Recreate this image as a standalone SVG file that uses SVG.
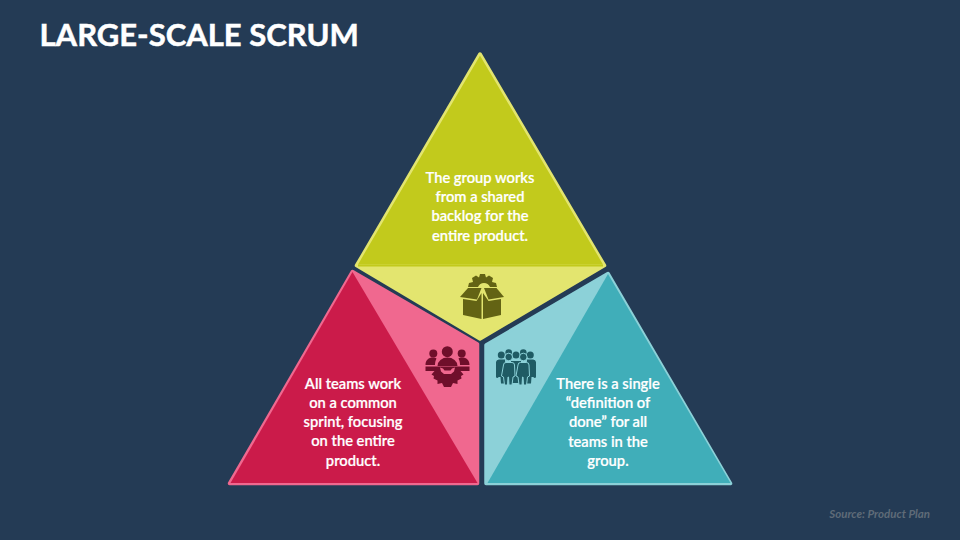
<svg xmlns="http://www.w3.org/2000/svg" width="960" height="540" viewBox="0 0 960 540">
<style>
text{font-family:Lato,"Liberation Sans",sans-serif}
.t{font-size:14.700px;font-weight:600;fill:#fff;text-anchor:middle;stroke:#fff;stroke-width:.2px}
.j{stroke-linejoin:round}
</style>
<rect width="960" height="540" fill="#243b55"/>
<text x="39.500" y="45.500" font-size="31" font-weight="700" fill="#fff" stroke="#fff" stroke-width=".5">LARGE-SCALE SCRUM</text>
<text x="930" y="518" font-size="11.500" font-weight="700" font-style="italic" fill="#5f6b78" text-anchor="end">Source: Product Plan</text>
<g id="node-top">
<path class="j" d="M480 54L604.500 265.500L480 339L356.500 265.500Z" fill="#e3e56f" stroke="#e3e56f" stroke-width="3.500"/>
<path class="j" d="M480 54L604.500 265.500H356.500Z" fill="#c2ca1c" stroke="#e3e56f" stroke-width="1.500"/>
<path d="M358 265.800H603" stroke="#c2ca1c" stroke-width="1.500"/>
<g fill="#636314">
<path d="M468 287l1-4 4-1-1-4 4-2.500 3 2 1-3.500h5l1 3.500 3-2 4 2.500-1 4 4 1 1 4h-7a7 7 0 0 0-6-4 7 7 0 0 0-6 4z"/>
<path d="M460 297L468 288H481.500L477 299.500Z"/>
<path d="M484 288H496.500L504 297 488.500 299.500Z"/>
<path d="M463 299L476.500 301 481.500 293V319L463 315Z"/>
<path d="M483 293L488.500 301 501 299V315L483 319Z"/>
</g>
<text class="t"><tspan x="480" y="183">The group works</tspan><tspan x="480" y="202">from a shared</tspan><tspan x="480" y="221">backlog for the</tspan><tspan x="480" y="241">entire product.</tspan></text>
</g>
<g id="node-left">
<path class="j" d="M352.500 271.500L477.500 344V483.500H229.500Z" fill="#f0688f" stroke="#f0688f" stroke-width="3.500"/>
<path d="M352.500 272L477.500 483H230.500Z" fill="#cb1b4a"/>
<g fill="#6f0f2b">
<circle cx="447.300" cy="351.700" r="5.500"/><circle cx="433.300" cy="353.500" r="4"/><circle cx="461.700" cy="353.500" r="4"/>
<path d="M437.500 366a10 8.500 0 0 1 20 0z"/>
<path d="M425.500 365c0-5 3-7.500 7.500-7.500 1.500 0 2.500.3 3.500 1-1 1.800-1.500 4-1.500 6.500zM469.500 365c0-5-3-7.500-7.500-7.500-1.500 0-2.500.3-3.500 1 1 1.800 1.500 4 1.500 6.500z"/>
<path d="M425.500 366.500H469.500V371H460.500L463.500 374.500 461 376 461.500 378.500 457.500 380.500 457.500 384 453 383 451 387H444L442 383 437.500 384 437.500 380.500 433.500 378.500 434 376 431.500 374.500 434.500 371H425.500Z"/>
</g>
<path d="M440 367.500l3 1 1.500 2h6l1.500-2 3-1-1 4-3 2.500h-7l-3-2.500z" fill="#f0688f"/>
<text class="t"><tspan x="353" y="389">All teams work</tspan><tspan x="353" y="408">on a common</tspan><tspan x="353" y="427">sprint, focusing</tspan><tspan x="353" y="446">on the entire</tspan><tspan x="353" y="466">product.</tspan></text>
</g>
<g id="node-right">
<path class="j" d="M608 273.500L730.500 483.500H486V345Z" fill="#8cd1d8" stroke="#8cd1d8" stroke-width="3.500"/>
<path d="M608 274L730.500 483H487.500Z" fill="#40aeb9"/>
<g fill="#1f5b64">
<circle cx="501.300" cy="355" r="3.500"/><circle cx="530.300" cy="355" r="3.500"/><circle cx="516" cy="355" r="3.500"/>
<circle cx="508.700" cy="352.500" r="3.300"/><circle cx="523.300" cy="352.500" r="3.300"/>
<path d="M496 362a3 3 0 0 1 3-2.500h6l1 24h-5l-.5-6.500h-2l-.5 1-2-.5zM536 362a3 3 0 0 0-3-2.500h-6l-1 24h5l.5-6.500h2l.5 1 2-.5zM511 361h10v22h-10z"/>
</g>
<g fill="#1f5b64" stroke="#8cd1d8" stroke-width="1">
<circle cx="508.700" cy="357" r="3.800"/><circle cx="523.300" cy="357" r="3.800"/>
<path d="M503.500 365a2.500 2.500 0 0 1 2.500-2.500h6a2.500 2.500 0 0 1 2.500 2.500l.5 11-2 1-1 8h-3l-.5-8h-.500l-.5 8h-3l-1-8-2-1zM518 365a2.500 2.500 0 0 1 2.500-2.500h6a2.500 2.500 0 0 1 2.500 2.500l.5 11-2 1-1 8h-3l-.5-8h-.500l-.5 8h-3l-1-8-2-1z"/>
</g>
<text class="t"><tspan x="608" y="389">There is a single</tspan><tspan x="608" y="408">“definition of</tspan><tspan x="608" y="427">done” for all</tspan><tspan x="608" y="447">teams in the</tspan><tspan x="608" y="466">group.</tspan></text>
</g>
</svg>
